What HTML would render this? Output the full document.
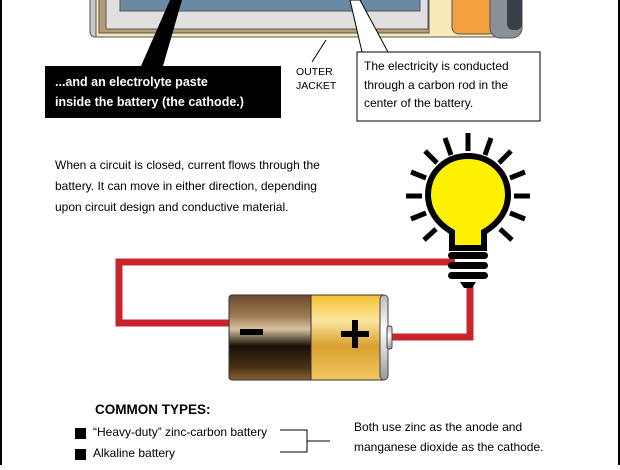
<!DOCTYPE html>
<html><head><style>
body{margin:0;width:620px;height:465px;overflow:hidden;background:#fff}
svg text{font-family:"Liberation Sans",sans-serif}
</style></head><body>
<svg width="620" height="465" viewBox="0 0 620 465" xmlns="http://www.w3.org/2000/svg">
<defs>
<linearGradient id="br" x1="0" y1="0" x2="0" y2="1">
<stop offset="0" stop-color="#6b4a2c"/><stop offset="0.25" stop-color="#a07a55"/><stop offset="0.4" stop-color="#d8c2a0"/><stop offset="0.6" stop-color="#1a1008"/><stop offset="0.85" stop-color="#4a3018"/><stop offset="1" stop-color="#8a6030"/></linearGradient>
<linearGradient id="gd" x1="0" y1="0" x2="0" y2="1">
<stop offset="0" stop-color="#f5c030"/><stop offset="0.3" stop-color="#fbe6a0"/><stop offset="0.6" stop-color="#d8a030"/><stop offset="1" stop-color="#f0c860"/></linearGradient>
<linearGradient id="cp" x1="0" y1="0" x2="0" y2="1">
<stop offset="0" stop-color="#bbb"/><stop offset="0.4" stop-color="#fff"/><stop offset="1" stop-color="#999"/></linearGradient>
</defs>
<rect x="0" y="0" width="2" height="465" fill="#000"/>
<rect x="618" y="0" width="2" height="465" fill="#000"/>
<!-- top battery -->
<rect x="90" y="-10" width="20" height="47" rx="5" fill="#c8c8c8" stroke="#555"/>
<rect x="96" y="-10" width="404" height="47" fill="#f8eab8" stroke="#555"/>
<rect x="99" y="-10" width="330" height="43" fill="#b89a78" stroke="#555"/>
<rect x="106" y="-10" width="322" height="39" fill="#e0e0e0" stroke="#555"/>
<rect x="120" y="-10" width="300" height="21" fill="#6a8aa4" stroke="#555"/>
<rect x="452" y="-10" width="44" height="44" rx="7" fill="#f5a040" stroke="#555"/>
<rect x="490" y="-10" width="32" height="48" rx="10" fill="#8a9098" stroke="#555"/>
<rect x="507" y="-10" width="15" height="40" rx="6" fill="#3a4048"/>
<path d="M170 0 L141 66 L163 66 L182 0Z" fill="#000"/>
<path d="M350 0 L362 52 L388 52 L360 0Z" fill="#fff" stroke="#000" stroke-width="1"/>
<line x1="326" y1="40" x2="312" y2="62" stroke="#000"/>
<rect x="45" y="66" width="236" height="52" fill="#000"/>
<text x="55" y="86" font-size="12.5" font-weight="bold" fill="#fff">...and an electrolyte paste</text>
<text x="55" y="106" font-size="12.5" font-weight="bold" fill="#fff">inside the battery (the cathode.)</text>
<text x="296" y="75" font-size="10.5">OUTER</text>
<text x="296" y="89" font-size="10.5">JACKET</text>
<rect x="357" y="52" width="183" height="69" fill="#fff" stroke="#000"/>
<text x="364" y="70" font-size="12">The electricity is conducted</text>
<text x="364" y="89" font-size="12">through a carbon rod in the</text>
<text x="364" y="107" font-size="12">center of the battery.</text>
<text x="55" y="169" font-size="12">When a circuit is closed, current flows through the</text>
<text x="55" y="190" font-size="12">battery. It can move in either direction, depending</text>
<text x="55" y="211" font-size="12">upon circuit design and conductive material.</text>
<!-- wires -->
<path d="M455 262 H119 V323 H232" fill="none" stroke="#c8242c" stroke-width="7"/>
<path d="M470 285 V337 H388" fill="none" stroke="#c8242c" stroke-width="7"/>
<!-- bulb -->
<g stroke="#000" stroke-width="5" stroke-linecap="butt">
<line x1="468" y1="133" x2="468" y2="151"/>
<line x1="445" y1="138" x2="451" y2="155"/>
<line x1="491" y1="138" x2="485" y2="155"/>
<line x1="425" y1="151" x2="437" y2="163"/>
<line x1="511" y1="151" x2="499" y2="163"/>
<line x1="411" y1="172" x2="426" y2="178"/>
<line x1="525" y1="172" x2="510" y2="178"/>
<line x1="406" y1="196" x2="422" y2="196"/>
<line x1="530" y1="196" x2="514" y2="196"/>
<line x1="411" y1="219" x2="426" y2="213"/>
<line x1="525" y1="219" x2="510" y2="213"/>
<line x1="424" y1="240" x2="436" y2="229"/>
<line x1="512" y1="240" x2="500" y2="229"/>
</g>
<path d="M452 248 V232 C435 222 428 208 428 195 C428 172 446 156 468 156 C490 156 508 172 508 195 C508 208 501 222 484 232 V248Z" fill="#fff200" stroke="#000" stroke-width="6"/>
<g fill="#000">
<rect x="448" y="252" width="40" height="7" rx="3.5"/>
<rect x="448" y="262" width="40" height="7" rx="3.5"/>
<rect x="448" y="272" width="40" height="7" rx="3.5"/>
<path d="M460 282 H476 L472 288 H464Z"/>
</g>
<!-- battery -->
<rect x="229" y="295" width="84" height="85" rx="3" fill="url(#br)" stroke="#333"/>
<rect x="311" y="295" width="72" height="85" fill="url(#gd)" stroke="#333"/>
<rect x="380" y="295" width="8" height="85" rx="4" fill="url(#cp)" stroke="#444"/>
<rect x="387" y="326" width="5" height="23" rx="2" fill="url(#cp)" stroke="#444"/>
<rect x="240" y="329" width="23" height="6" fill="#000"/>
<rect x="341" y="331" width="28" height="6" fill="#000"/>
<rect x="352" y="320" width="6" height="28" fill="#000"/>
<!-- common types -->
<text x="95" y="414" font-size="13.5" font-weight="bold">COMMON TYPES:</text>
<rect x="75" y="428" width="11" height="11" fill="#000"/>
<rect x="75" y="449" width="11" height="11" fill="#000"/>
<text x="93" y="436" font-size="12">“Heavy-duty” zinc-carbon battery</text>
<text x="93" y="457" font-size="12">Alkaline battery</text>
<path d="M280 430 H307 V452 H280 M307 441 H330" fill="none" stroke="#000"/>
<text x="354" y="431" font-size="12">Both use zinc as the anode and</text>
<text x="354" y="451" font-size="12">manganese dioxide as the cathode.</text>
</svg>
</body></html>
